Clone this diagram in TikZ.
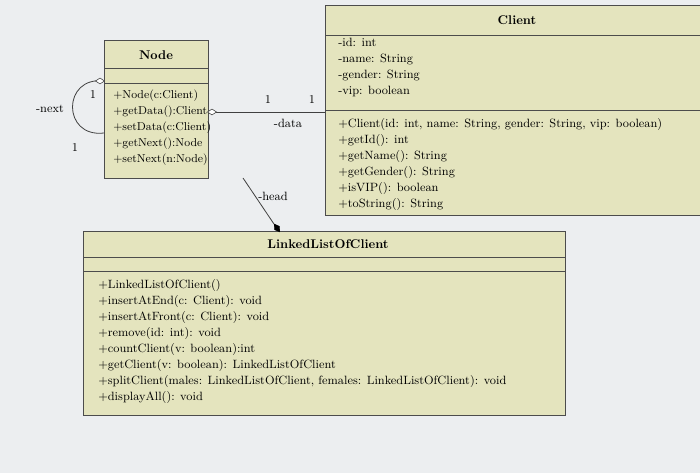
\documentclass[tikz,border=0pt]{standalone}
\usetikzlibrary{shapes.geometric}
\begin{document}
\begin{tikzpicture}[x=0.75pt,y=-0.75pt,
  box/.style={draw=black!70,line width=0.6pt,fill=umlfill},
  txt/.style={inner sep=0pt,align=left,anchor=north west,font=\fontsize{9}{12}\selectfont},
  ttl/.style={inner sep=0pt,font=\fontsize{9.5}{12}\selectfont\bfseries},
  lbl/.style={inner sep=0pt,font=\fontsize{9}{12}\selectfont},
  odia/.style={diamond,draw=black!80,fill=white,inner sep=0pt,minimum width=7pt,minimum height=4.5pt},
  fdia/.style={diamond,draw=black,fill=black,inner sep=0pt,minimum width=4.5pt,minimum height=7pt},
  conn/.style={draw=black!75,line width=0.6pt}]
\definecolor{umlfill}{RGB}{228,228,190}
\definecolor{bg}{RGB}{236,238,240}
\useasboundingbox (0,0) rectangle (700,473);
\fill[bg] (0,0) rectangle (700,473);
% Node
\draw[box] (104,40) rectangle (208,178);
\draw[black!70] (104,68) -- (208,68) (104,83) -- (208,83);
\node[ttl] (ntitle) at (156,55) {Node};
\node[txt,font=\fontsize{8.6}{12}\selectfont] (nmeth) at (113,90) {+Node(c:Client)\\+getData():Client\\+setData(c:Client)\\+getNext():Node\\+setNext(n:Node)};
% Client
\draw[box] (325,5) rectangle (712,215);
\draw[black!70] (325,35) -- (712,35) (325,110) -- (712,110);
\node[ttl] (ctitle) at (517,20) {Client};
\node[txt] (cattr) at (338,38) {-id: int\\-name: String\\-gender: String\\-vip: boolean};
\node[txt] (cmeth) at (338,118) {+Client(id: int, name: String, gender: String, vip: boolean)\\+getId(): int\\+getName(): String\\+getGender(): String\\+isVIP(): boolean\\+toString(): String};
% LinkedListOfClient
\draw[box] (83,231) rectangle (565,415);
\draw[black!70] (83,257) -- (565,257) (83,271) -- (565,271);
\node[ttl] (ltitle) at (328,244) {LinkedListOfClient};
\node[txt] (lmeth) at (98,279) {+LinkedListOfClient()\\+insertAtEnd(c: Client): void\\+insertAtFront(c: Client): void\\+remove(id: int): void\\+countClient(v: boolean):int\\+getClient(v: boolean): LinkedListOfClient\\+splitClient(males: LinkedListOfClient, females: LinkedListOfClient): void\\+displayAll(): void};
% self association next
\coordinate (la) at (104,81);
\coordinate (lb) at (104,133);
\draw[conn] (la) .. controls (62,76) and (62,138) .. (lb);
\node[odia] (d1) at (100,81) {};
\node[lbl] at (93,95) {1};
\node[lbl] at (75,148) {1};
\node[lbl] at (50,109) {-next};
% data
\coordinate (da) at (213,112);
\coordinate (db) at (325,112);
\draw[conn] (da) -- (db);
\node[odia] (d2) at (212,112) {};
\node[lbl] at (268,100) {1};
\node[lbl] at (312,100) {1};
\node[lbl] at (288,123) {-data};
% head
\coordinate (ha) at (243,178);
\coordinate (hb) at (276,227);
\draw[conn] (ha) -- (hb);
\node[fdia,rotate=34] (d3) at (277,228) {};
\node[lbl] at (273,196) {-head};
\end{tikzpicture}
\end{document}
